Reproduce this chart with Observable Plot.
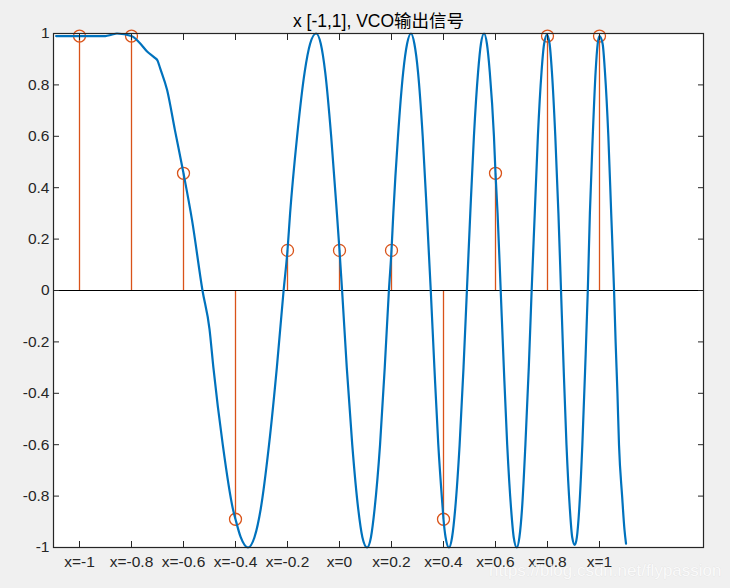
<!DOCTYPE html>
<html>
<head>
<meta charset="utf-8">
<script src="https://cdn.jsdelivr.net/npm/d3@7"></script>
<script src="https://cdn.jsdelivr.net/npm/@observablehq/plot@0.6"></script>
<style>
html,body{margin:0;padding:0;background:#f0f0f0;}
svg{display:block;}
</style>
</head>
<body>
<div id="chart"></div>
<script>
const titleText = "x [-1,1], VCO输出信号";
const watermark = "https://blog.csdn.net/flypassion";

const stemX = [-1,-0.8,-0.6,-0.4,-0.2,0,0.2,0.4,0.6,0.8,1];
const stemY = [0.99,0.99,0.456,-0.89,0.156,0.156,0.156,-0.89,0.456,0.99,0.99];
const xTickLabels = ["x=-1","x=-0.8","x=-0.6","x=-0.4","x=-0.2","x=0","x=0.2","x=0.4","x=0.6","x=0.8","x=1"];
const yTicks = [-1,-0.8,-0.6,-0.4,-0.2,0,0.2,0.4,0.6,0.8,1];

const curveX = [-1.09,-0.9,-0.877,-0.856,-0.8,-0.77,-0.74,-0.71,-0.7,-0.69,-0.663,-0.633,-0.6,-0.567,-0.527,-0.5,-0.485,-0.449,-0.41,-0.4,-0.38,-0.352,-0.327,-0.303,-0.271,-0.241,-0.215,-0.2,-0.19,-0.163,-0.134,-0.113,-0.09,-0.072,-0.055,-0.032,-0.01,0,0.01,0.028,0.049,0.072,0.088,0.106,0.121,0.135,0.156,0.174,0.19,0.2,0.207,0.225,0.245,0.26,0.275,0.288,0.302,0.32,0.336,0.351,0.365,0.38,0.397,0.4,0.408,0.421,0.433,0.445,0.462,0.477,0.49,0.503,0.517,0.533,0.544,0.556,0.567,0.578,0.594,0.6,0.608,0.62,0.632,0.645,0.66,0.67,0.682,0.692,0.702,0.715,0.728,0.739,0.751,0.763,0.777,0.787,0.798,0.808,0.817,0.83,0.842,0.852,0.862,0.873,0.886,0.895,0.905,0.913,0.922,0.934,0.945,0.955,0.963,0.974,0.985,0.993,1,1.012,1.021,1.034,1.045,1.056,1.062,1.069,1.075,1.087,1.096,1.102];
const curveY = [0.99,0.99,0.995,1,0.99,0.965,0.93,0.905,0.895,0.865,0.78,0.624,0.456,0.273,0,-0.15,-0.3,-0.6,-0.85,-0.89,-0.96,-1,-0.96,-0.85,-0.6,-0.3,0,0.156,0.3,0.6,0.85,0.96,1,0.96,0.85,0.6,0.3,0.156,0,-0.3,-0.6,-0.85,-0.96,-1,-0.96,-0.85,-0.6,-0.3,0,0.156,0.3,0.6,0.85,0.96,1,0.96,0.85,0.6,0.3,0,-0.3,-0.6,-0.85,-0.89,-0.96,-1,-0.96,-0.85,-0.6,-0.3,0,0.3,0.6,0.85,0.96,1,0.96,0.85,0.6,0.456,0.3,0,-0.3,-0.6,-0.85,-0.96,-1,-0.96,-0.85,-0.6,-0.3,0,0.3,0.6,0.85,0.96,0.995,0.96,0.85,0.6,0.3,0,-0.3,-0.6,-0.85,-0.96,-0.99,-0.96,-0.85,-0.6,-0.3,0,0.3,0.6,0.85,0.96,0.99,0.96,0.85,0.6,0.3,0,-0.2,-0.4,-0.6,-0.8,-0.93,-0.985];

const curve = curveX.map((x,i)=>({x,y:curveY[i]}));
const stems = stemX.map((x,i)=>({x,y:stemY[i]}));
const textColor = "#262626";
const font = "Liberation Sans, Arial, sans-serif";
const stemColor = "#d95319";

const plot = Plot.plot({
  width: 730,
  height: 588,
  marginLeft: 53,
  marginRight: 27,
  marginTop: 33,
  marginBottom: 41,
  style: {background:"#f0f0f0", fontFamily:font, fontSize:"15.5px", color:textColor},
  x: {domain:[-1.1,1.4]},
  y: {domain:[-1,1]},
  marks: [
    Plot.frame({fill:"white", stroke:"none"}),
    Plot.ruleX(stems, {x:"x", y1:0, y2:"y", stroke:stemColor, strokeWidth:1.3}),
    Plot.dot(stems, {x:"x", y:"y", r:6, stroke:stemColor, fill:"none", strokeWidth:1.3}),
    Plot.ruleY([0], {stroke:"#000", strokeWidth:1}),
    Plot.line(curve, {x:"x", y:"y", stroke:"#0072bd", strokeWidth:2.2, curve:"monotone-x"}),
    Plot.frame({stroke:textColor, strokeWidth:1.2, fill:"none"}),
    Plot.axisX({anchor:"bottom", ticks:stemX, tickSize:-6, tickPadding:14, stroke:textColor, fill:textColor, strokeOpacity:1, label:null,
      tickFormat:(d)=>xTickLabels[stemX.indexOf(d)]}),
    Plot.axisX({anchor:"top", ticks:stemX, tickSize:-6, tickFormat:()=>"", stroke:textColor, strokeOpacity:1, label:null}),
    Plot.axisY({anchor:"left", ticks:yTicks, tickSize:-6, tickPadding:10, stroke:textColor, fill:textColor, strokeOpacity:1, label:null,
      tickFormat:(d)=>String(d)}),
    Plot.axisY({anchor:"right", ticks:yTicks, tickSize:-6, tickFormat:()=>"", stroke:textColor, strokeOpacity:1, label:null}),
    Plot.text([titleText], {frameAnchor:"top", dy:-19, fontSize:17.5, fill:"#000", fontFamily:"Liberation Sans, Noto Sans CJK SC, sans-serif"}),
    Plot.text([watermark], {frameAnchor:"bottom-right", dx:18, dy:28, fontSize:17, fill:"#ffffff", fillOpacity:0.75, stroke:"#bbbbbb", strokeOpacity:0.35, strokeWidth:0.5, fontFamily:font})
  ]
});
document.getElementById("chart").appendChild(plot);
</script>
</body>
</html>
